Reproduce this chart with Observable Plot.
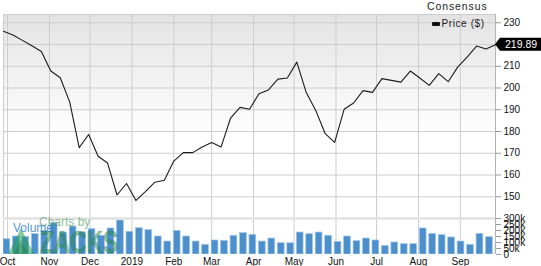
<!DOCTYPE html>
<html><head><meta charset="utf-8">
<script src="https://cdn.jsdelivr.net/npm/d3@7"></script>
<script src="https://cdn.jsdelivr.net/npm/@observablehq/plot@0.6"></script>
<style>
html,body{margin:0;padding:0;background:#fff;}
#chart{position:relative;width:541px;height:266px;overflow:hidden;font-family:"Liberation Sans",Arial,Helvetica,sans-serif;}
#chart > svg, #chart > div{position:absolute;left:0;top:0;}
.bg{left:3px !important;top:14px !important;width:492px;height:204px;background:linear-gradient(#e3e3e3,#ffffff 60%);}
</style>
</head><body>
<div id="chart"><div class="bg"></div></div>
<script>
// ---- data ----
const dates = ["2018-09-28","2018-10-05","2018-10-12","2018-10-19","2018-10-26","2018-11-02","2018-11-09","2018-11-16","2018-11-23","2018-11-30","2018-12-07","2018-12-14","2018-12-21","2018-12-28",
"2019-01-04","2019-01-11","2019-01-18","2019-01-25","2019-02-01","2019-02-08","2019-02-15","2019-02-22","2019-03-01","2019-03-08","2019-03-15","2019-03-22","2019-03-29","2019-04-05","2019-04-12","2019-04-19","2019-04-26","2019-05-03","2019-05-10","2019-05-17","2019-05-24","2019-05-31","2019-06-07","2019-06-14","2019-06-21","2019-06-28","2019-07-05","2019-07-12","2019-07-19","2019-07-26","2019-08-02","2019-08-09","2019-08-16","2019-08-23","2019-08-30","2019-09-06","2019-09-13","2019-09-20","2019-09-27"];
const prices = [226.1,224.4,221.9,219.4,216.8,207.8,204.7,193.5,172.6,178.6,168.6,165.5,150.8,156.1,148.3,152.4,156.7,157.6,166.4,170.3,170.3,172.9,174.9,172.9,186.2,191.1,190.2,197.4,199.1,204.1,204.6,211.9,197.9,189.7,179.0,175.0,190.2,193.1,198.8,198.0,204.3,203.5,202.7,207.8,204.6,201.2,206.6,202.9,209.6,214.2,219.3,217.9,219.89];
const volumes = [127000,150000,147000,170000,195000,261000,183000,233000,185000,211000,156000,217000,283000,189000,219000,203000,150000,108000,197000,150000,108000,81000,117000,114000,156000,178000,164000,108000,133000,94000,94000,183000,169000,183000,156000,105000,150000,111000,133000,117000,72000,100000,86000,86000,217000,172000,161000,142000,108000,81000,172000,144000,94000];
const priceTicks = [150,160,170,180,190,200,210,220,230];
const volTicks = [0,50000,100000,150000,200000,250000,300000];
const volTickLabels = ["0","50k","100k","150k","200k","250k","300k"];
const monthTickDates = ["2018-10-01","2018-11-01","2018-12-01","2019-01-01","2019-02-01","2019-03-01","2019-04-01","2019-05-01","2019-06-01","2019-07-01","2019-08-01","2019-09-01"];
const monthLabels = ["Oct","Nov","Dec","2019","Feb","Mar","Apr","May","Jun","Jul","Aug","Sep"];
const lastPriceLabel = "219.89";

// ---- build ----
const parse = d3.utcParse("%Y-%m-%d");
const rows = dates.map((d,i)=>({date:parse(d), price:prices[i], volume:volumes[i]}));
const monthTicks = monthTickDates.map(parse);
const xDomain = [rows[0].date, rows[rows.length-1].date];
const lastPrice = prices[prices.length-1];
const font = "'Liberation Sans', Arial, Helvetica, sans-serif";
const grid = "#cdcdcd";

const priceChart = Plot.plot({
  width:541, height:218, marginTop:14, marginBottom:0, marginLeft:3, marginRight:46,
  style:{background:"transparent", fontFamily:font, fontSize:"10px", overflow:"visible"},
  x:{type:"utc", domain:xDomain, axis:null},
  y:{domain:[140,233.8], axis:null},
  marks:[
    Plot.ruleY(priceTicks, {stroke:grid}),
    Plot.ruleX(monthTicks, {stroke:grid}),
    Plot.frame({stroke:grid}),
    Plot.ruleX([xDomain[1]], {stroke:"#b3b3b3"}),
    Plot.line(rows, {x:"date", y:"price", stroke:"#1c1c1c", strokeWidth:1.1}),
    Plot.axisY({anchor:"right", label:null, ticks:priceTicks.filter(t=>Math.abs(t-lastPrice)>4),
      tickSize:5, tickPadding:3, stroke:"#999", fill:"#111", fontSize:10, tickFormat:d=>String(d)})
  ]
});

const volChart = Plot.plot({
  width:541, height:266, marginTop:218, marginBottom:12, marginLeft:3, marginRight:46,
  style:{background:"transparent", fontFamily:font, fontSize:"10px", overflow:"visible"},
  x:{type:"utc", domain:xDomain, axis:null},
  y:{domain:[0,300000], axis:null},
  marks:[
    Plot.ruleX(monthTicks, {stroke:grid}),
    Plot.ruleX([xDomain[0]], {stroke:grid}),
    Plot.rectY(rows, {x1:"date", x2:d=>d3.utcDay.offset(d.date,5.4), y:"volume", fill:"#4c8fcd", stroke:"#a3c6e8", strokeWidth:0.7, clip:true}),
    Plot.ruleX([xDomain[1]], {stroke:"#b3b3b3"}),
    Plot.ruleY([300000], {stroke:"#e2e2e2", strokeWidth:2.5}),
    Plot.axisY({anchor:"right", label:null, ticks:volTicks, tickSize:5, tickPadding:3, stroke:"#999", fill:"#111", fontSize:10,
      tickFormat:d=>volTickLabels[volTicks.indexOf(d)]}),
    Plot.axisX({label:null, ticks:monthTicks, tickSize:0, tickPadding:3, fill:"#111", fontSize:10,
      tickFormat:d=>monthLabels[monthTicks.findIndex(t=>+t===+d)]})
  ]
});

const chart = document.getElementById("chart");
chart.appendChild(priceChart);
chart.appendChild(volChart);

// overlay: consensus, legend, price tag, watermark
const ov = d3.select(chart).append("svg").attr("width",541).attr("height",266)
  .style("position","absolute").style("left","0").style("top","0")
  .style("font-family", font);

ov.append("text").attr("x",427).attr("y",9.5).attr("font-size",10.5).attr("letter-spacing",0.9).attr("fill","#222").text("Consensus");
ov.append("rect").attr("x",432).attr("y",22).attr("width",8).attr("height",4).attr("rx",1).attr("fill","#111");
ov.append("text").attr("x",441.5).attr("y",27).attr("font-size",10).attr("letter-spacing",0.6).attr("fill","#222").text("Price ($)");

const yS = priceChart.scale("y");
const xS = priceChart.scale("x");
const ty = yS.apply(lastPrice);
const tx = xS.apply(xDomain[1]);
ov.append("path").attr("d",`M${tx},${ty} L${tx+5},${ty-6.5} L541,${ty-6.5} L541,${ty+6.5} L${tx+5},${ty+6.5} Z`).attr("fill","#000");
ov.append("text").attr("x",505).attr("y",ty+3.6).attr("font-size",10.5).attr("fill","#fff").text(lastPriceLabel);

// watermark
const wm = ov.append("g");
wm.append("polygon").attr("points","8,254 21,228 34,254").attr("fill","rgba(40,160,80,0.55)");
wm.append("polygon").attr("points","14,254 21,240 28,254").attr("fill","rgba(20,120,60,0.35)");
wm.append("text").attr("x",39).attr("y",226).attr("font-size",12).attr("fill","rgba(70,150,90,0.65)").text("Charts by");
wm.append("text").attr("x",40).attr("y",253).attr("font-size",32).attr("font-weight","bold")
  .attr("textLength",78).attr("lengthAdjust","spacingAndGlyphs")
  .attr("fill","rgba(40,140,70,0.5)").attr("stroke","rgba(20,90,50,0.35)").attr("stroke-width",0.6).text("ZACKS");
wm.append("text").attr("x",13).attr("y",232).attr("font-size",12).attr("fill","rgba(30,120,205,0.8)").text("Volume");
</script>
</body></html>
